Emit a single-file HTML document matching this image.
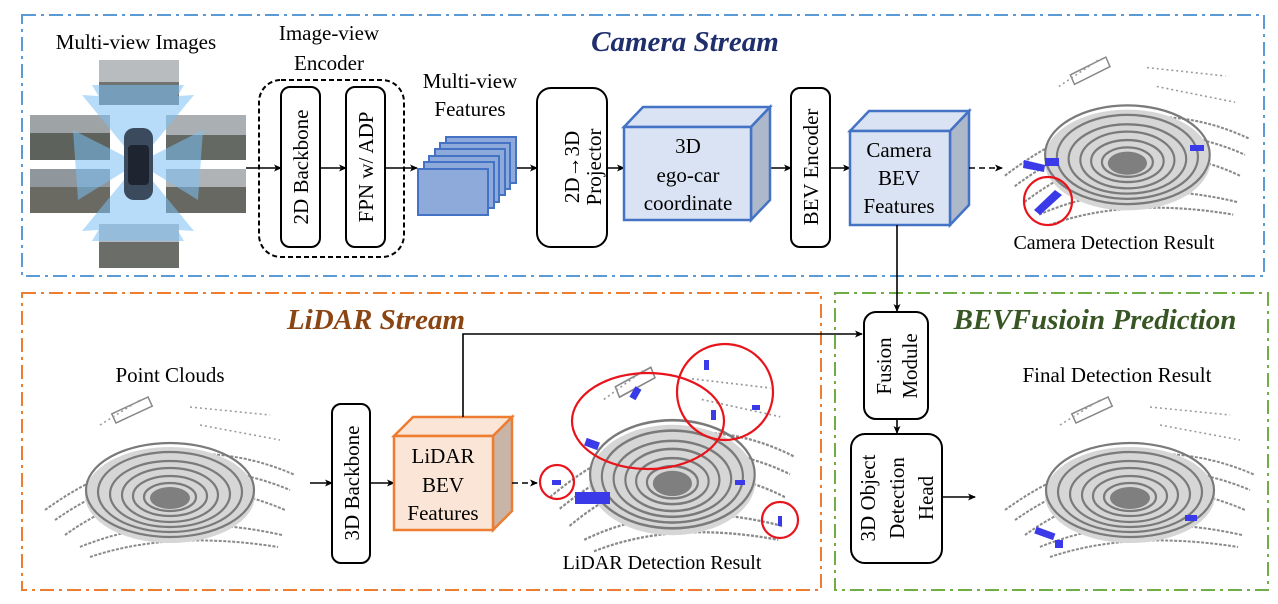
<!DOCTYPE html>
<html><head><meta charset="utf-8"><style>
html,body{margin:0;padding:0;background:#fff}
svg{display:block}
text{font-family:"Liberation Serif",serif;fill:#000}
</style></head><body>
<svg width="1278" height="604" viewBox="0 0 1278 604" xmlns="http://www.w3.org/2000/svg">
<defs>
<marker id="ah" markerWidth="8" markerHeight="8" refX="7" refY="4" orient="auto" markerUnits="userSpaceOnUse"><path d="M0,0.5 L8,4 L0,7.5 L2,4 Z" fill="#000"/></marker>
<g id="pc">
 <g fill="none" stroke="#8a8a8a" stroke-width="2" stroke-dasharray="3 1.5">
  <path d="M5,115 Q130,25 255,80"/>
  <path d="M15,125 Q130,45 250,95"/>
  <path d="M25,140 Q130,65 245,115"/>
  <path d="M40,152 Q130,115 242,140"/>
  <path d="M50,162 Q130,135 238,152"/>
 </g>
 <ellipse cx="130" cy="100" rx="85" ry="48" fill="#d6d6d6"/>
 <g fill="none" stroke="#7a7a7a" stroke-width="2.2">
  <ellipse cx="130" cy="95" rx="84" ry="47"/>
  <ellipse cx="130" cy="97" rx="72" ry="40"/>
  <ellipse cx="130" cy="99" rx="60" ry="33"/>
  <ellipse cx="130" cy="100" rx="48" ry="27"/>
  <ellipse cx="130" cy="101" rx="37" ry="20"/>
  <ellipse cx="130" cy="102" rx="26" ry="14"/>
 </g>
 <ellipse cx="130" cy="103" rx="20" ry="11" fill="#7f7f7f"/>
 <rect x="72" y="10" width="40" height="10" transform="rotate(-25 92 15)" fill="none" stroke="#888" stroke-width="1.5"/>
 <g fill="none" stroke="#999" stroke-width="1.5" stroke-dasharray="2 3">
  <path d="M150,12 L230,20"/><path d="M160,30 L240,45"/><path d="M60,30 L100,5"/>
 </g>
</g>
</defs>

<rect x="22" y="15" width="1242" height="261" fill="none" stroke="#5b9bd5" stroke-width="2" stroke-dasharray="14 5 3 5"/>
<rect x="22" y="293" width="799" height="297" fill="none" stroke="#ed7d31" stroke-width="2" stroke-dasharray="14 5 3 5"/>
<rect x="835" y="293" width="433" height="297" fill="none" stroke="#70ad47" stroke-width="2" stroke-dasharray="14 5 3 5"/>

<text x="685" y="51" font-size="29" font-weight="bold" font-style="italic" text-anchor="middle" style="fill:#1f2f6e">Camera Stream</text>
<text x="376" y="329" font-size="29" font-weight="bold" font-style="italic" text-anchor="middle" style="fill:#8b4513">LiDAR Stream</text>
<text x="1095" y="329" font-size="29" font-weight="bold" font-style="italic" text-anchor="middle" style="fill:#375623">BEVFusioin Prediction</text>

<text x="136" y="49" font-size="21" text-anchor="middle">Multi-view Images</text>
<rect x="99" y="60" width="80" height="45" fill="#6f7470"/><rect x="99" y="60" width="80" height="22" fill="#b9bcbe"/>
<rect x="30" y="115" width="80" height="45" fill="#5e625c"/><rect x="30" y="115" width="80" height="18" fill="#9ea3a6"/>
<rect x="30" y="169" width="80" height="44" fill="#6a6a62"/><rect x="30" y="169" width="80" height="18" fill="#8f969c"/>
<rect x="166" y="115" width="80" height="45" fill="#646a63"/><rect x="166" y="115" width="80" height="20" fill="#a9afb3"/>
<rect x="166" y="169" width="80" height="44" fill="#666861"/><rect x="166" y="169" width="80" height="18" fill="#b0b3b5"/>
<rect x="99" y="224" width="80" height="44" fill="#6b6d68"/><rect x="99" y="224" width="80" height="18" fill="#b5b9bd"/>
<g fill="#7cc0f5" opacity="0.55">
 <polygon points="138,163 82,95 130,98"/><polygon points="138,163 194,95 146,98"/>
 <polygon points="138,163 82,231 130,228"/><polygon points="138,163 194,231 146,228"/>
 <polygon points="138,163 73,130 78,200"/><polygon points="138,163 203,130 198,200"/>
 <polygon points="138,163 92,85 184,85"/><polygon points="138,163 92,241 184,241"/>
</g>
<rect x="124" y="128" width="29" height="72" rx="10" fill="#3b4a5c"/>
<rect x="128" y="145" width="21" height="40" rx="4" fill="#1e2530"/>

<text x="329" y="40" font-size="21" text-anchor="middle">Image-view</text>
<text x="329" y="70" font-size="21" text-anchor="middle">Encoder</text>
<rect x="259" y="80" width="145" height="177" rx="22" fill="none" stroke="#000" stroke-width="2" stroke-dasharray="5 3"/>
<rect x="281" y="87" width="39" height="160" rx="9" fill="#fff" stroke="#000" stroke-width="2"/>
<rect x="346" y="87" width="39" height="160" rx="9" fill="#fff" stroke="#000" stroke-width="2"/>
<text transform="translate(308 167) rotate(-90)" font-size="21" text-anchor="middle">2D Backbone</text>
<text transform="translate(373 167) rotate(-90)" font-size="21" text-anchor="middle">FPN w/ ADP</text>
<g stroke="#000" stroke-width="1.6" marker-end="url(#ah)">
<line x1="246" y1="168" x2="281" y2="168"/><line x1="320" y1="168" x2="346" y2="168"/><line x1="385" y1="168" x2="417" y2="168"/>
<line x1="516" y1="168" x2="537" y2="168"/><line x1="607" y1="168" x2="624" y2="168"/><line x1="770" y1="168" x2="791" y2="168"/><line x1="830" y1="168" x2="850" y2="168"/>
</g>

<text x="470" y="88" font-size="21" text-anchor="middle">Multi-view</text>
<text x="470" y="116" font-size="21" text-anchor="middle">Features</text>
<g fill="#8eaadb" stroke="#4472c4" stroke-width="2">
<rect x="446" y="137" width="70" height="46"/><rect x="440" y="143" width="70" height="46"/><rect x="435" y="149" width="70" height="46"/>
<rect x="429" y="156" width="70" height="46"/><rect x="424" y="162" width="70" height="46"/><rect x="418" y="169" width="70" height="46"/>
</g>

<rect x="537" y="88" width="70" height="159" rx="14" fill="#fff" stroke="#000" stroke-width="2"/>
<text transform="translate(579 167) rotate(-90)" font-size="21" text-anchor="middle">2D→3D</text>
<text transform="translate(601 167) rotate(-90)" font-size="21" text-anchor="middle">Projector</text>

<polygon points="624,127 643,107 770,107 751,127" fill="#dae3f3" stroke="#4472c4" stroke-width="2.5"/>
<polygon points="751,127 770,107 770,200 751,220" fill="#adb9ca" stroke="#4472c4" stroke-width="2.5"/>
<rect x="624" y="127" width="127" height="93" fill="#dae3f3" stroke="#4472c4" stroke-width="2.5"/>
<text x="688" y="153" font-size="21" text-anchor="middle">3D</text>
<text x="688" y="182" font-size="21" text-anchor="middle">ego-car</text>
<text x="688" y="210" font-size="21" text-anchor="middle">coordinate</text>

<rect x="791" y="88" width="39" height="159" rx="9" fill="#fff" stroke="#000" stroke-width="2"/>
<text transform="translate(818 167) rotate(-90)" font-size="21" text-anchor="middle">BEV Encoder</text>

<polygon points="850,131 869,111 969,111 950,131" fill="#dae3f3" stroke="#4472c4" stroke-width="2.5"/>
<polygon points="950,131 969,111 969,205 950,225" fill="#adb9ca" stroke="#4472c4" stroke-width="2.5"/>
<rect x="850" y="131" width="100" height="94" fill="#dae3f3" stroke="#4472c4" stroke-width="2.5"/>
<text x="899" y="157" font-size="21" text-anchor="middle">Camera</text>
<text x="899" y="185" font-size="21" text-anchor="middle">BEV</text>
<text x="899" y="213" font-size="21" text-anchor="middle">Features</text>
<line x1="969" y1="168" x2="1002" y2="168" stroke="#000" stroke-width="1.6" stroke-dasharray="6 4" marker-end="url(#ah)"/>

<use href="#pc" transform="translate(1000 55) scale(0.98 1.05)"/>
<g fill="#3a3ae8"><polygon points="1024,160 1045,165 1044,172 1023,168"/><rect x="1045" y="158" width="14" height="8"/><rect x="1190" y="145" width="14" height="6"/>
<polygon points="1034,210 1055,190 1062,195 1040,215"/></g>
<circle cx="1048" cy="201" r="24" fill="none" stroke="#e8141b" stroke-width="2.2"/>
<text x="1114" y="249" font-size="20" text-anchor="middle">Camera Detection Result</text>

<line x1="897" y1="225" x2="897" y2="311" stroke="#000" stroke-width="1.6" marker-end="url(#ah)"/>

<text x="170" y="382" font-size="21" text-anchor="middle">Point Clouds</text>
<use href="#pc" transform="translate(40 395)"/>
<line x1="310" y1="483" x2="332" y2="483" stroke="#000" stroke-width="1.6" marker-end="url(#ah)"/>
<rect x="332" y="404" width="38" height="159" rx="9" fill="#fff" stroke="#000" stroke-width="2"/>
<text transform="translate(359 483) rotate(-90)" font-size="21" text-anchor="middle">3D Backbone</text>
<line x1="370" y1="483" x2="394" y2="483" stroke="#000" stroke-width="1.6" marker-end="url(#ah)"/>
<polygon points="394,436 413,417 512,417 493,436" fill="#fbe5d6" stroke="#ed7d31" stroke-width="2.5"/>
<polygon points="493,436 512,417 512,511 493,530" fill="#c9b5a8" stroke="#ed7d31" stroke-width="2.5"/>
<rect x="394" y="436" width="99" height="94" fill="#fbe5d6" stroke="#ed7d31" stroke-width="2.5"/>
<text x="443" y="463" font-size="21" text-anchor="middle">LiDAR</text>
<text x="443" y="492" font-size="21" text-anchor="middle">BEV</text>
<text x="443" y="520" font-size="21" text-anchor="middle">Features</text>
<polyline points="463,417 463,334 862,334" fill="none" stroke="#000" stroke-width="1.6" marker-end="url(#ah)"/>
<line x1="512" y1="483" x2="537" y2="483" stroke="#000" stroke-width="1.6" stroke-dasharray="6 4" marker-end="url(#ah)"/>
<use href="#pc" transform="translate(545 365) scale(0.98 1.15)"/>
<g fill="#3a3ae8"><rect x="585" y="440" width="14" height="8" transform="rotate(20 592 444)"/><rect x="575" y="492" width="35" height="12"/><rect x="552" y="480" width="9" height="5"/>
<rect x="632" y="387" width="7" height="12" transform="rotate(30 635 393)"/><rect x="704" y="360" width="5" height="10"/><rect x="711" y="410" width="5" height="10"/><rect x="752" y="405" width="8" height="5"/><rect x="735" y="480" width="10" height="5"/><rect x="778" y="516" width="4" height="10"/></g>
<g fill="none" stroke="#e8141b" stroke-width="2.2">
<ellipse cx="648" cy="421" rx="76" ry="48"/><circle cx="725" cy="392" r="48"/><circle cx="557" cy="482" r="17"/><circle cx="780" cy="520" r="18"/></g>
<text x="662" y="569" font-size="20" text-anchor="middle">LiDAR Detection Result</text>

<rect x="864" y="312" width="64" height="107" rx="12" fill="#fff" stroke="#000" stroke-width="2"/>
<text transform="translate(891 366) rotate(-90)" font-size="21" text-anchor="middle">Fusion</text>
<text transform="translate(917 366) rotate(-90)" font-size="21" text-anchor="middle">Module</text>
<line x1="897" y1="419" x2="897" y2="433" stroke="#000" stroke-width="1.6" marker-end="url(#ah)"/>
<rect x="851" y="434" width="91" height="129" rx="14" fill="#fff" stroke="#000" stroke-width="2"/>
<text transform="translate(875 498) rotate(-90)" font-size="21" text-anchor="middle">3D Object</text>
<text transform="translate(904 498) rotate(-90)" font-size="21" text-anchor="middle">Detection</text>
<text transform="translate(933 498) rotate(-90)" font-size="21" text-anchor="middle">Head</text>
<line x1="942" y1="497" x2="975" y2="497" stroke="#000" stroke-width="1.6" marker-end="url(#ah)"/>
<text x="1117" y="382" font-size="21" text-anchor="middle">Final Detection Result</text>
<use href="#pc" transform="translate(1000 395)"/>
<g fill="#3a3ae8"><rect x="1035" y="530" width="20" height="7" transform="rotate(20 1045 533)"/><rect x="1185" y="515" width="12" height="6"/><rect x="1055" y="540" width="8" height="8"/></g>
</svg>
</body></html>
